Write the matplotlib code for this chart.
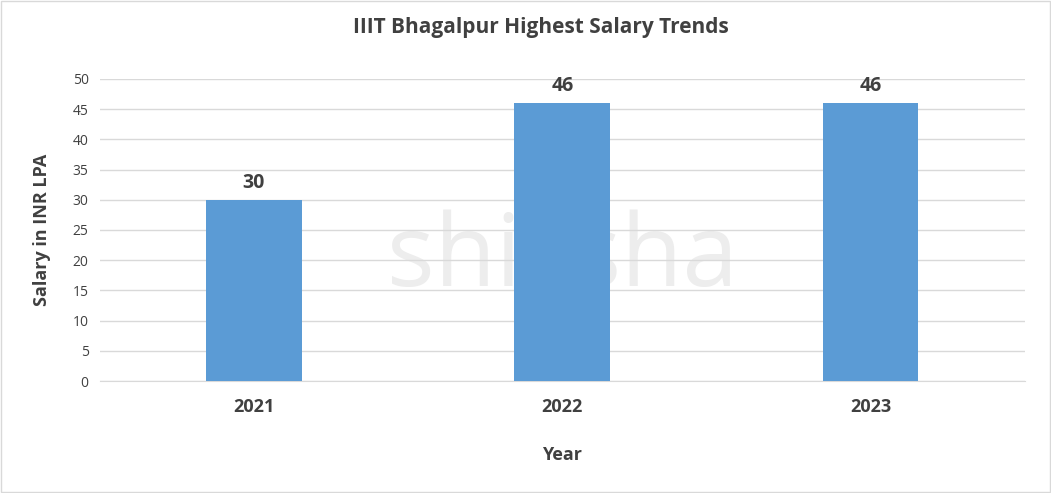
import matplotlib.pyplot as plt

years = ["2021", "2022", "2023"]
salary = [30, 46, 46]
yticks = [0, 5, 10, 15, 20, 25, 30, 35, 40, 45, 50]

plt.rcParams['font.family'] = ['Open Sans', 'DejaVu Sans']
text_col = '#404040'

fig = plt.figure(figsize=(10.51, 4.93), dpi=100)
ax = fig.add_axes([0.095, 0.227, 0.88, 0.613])

x = range(len(years))
bars = ax.bar(x, salary, width=0.31, color='#5B9BD5', zorder=3)
for b, v in zip(bars, salary):
    ax.text(b.get_x() + b.get_width() / 2, v + 1.2, str(v), ha='center', va='bottom',
            fontsize=14, fontweight='bold', color=text_col)

ax.set_xlim(-0.5, 2.5)
ax.set_ylim(0, 50)
ax.set_yticks(yticks)
ax.set_xticks(list(x))
ax.set_xticklabels(years, fontsize=13, fontweight='bold', color=text_col)
ax.tick_params(axis='y', labelsize=10, labelcolor=text_col, length=0, pad=8)
ax.tick_params(axis='x', length=0, pad=12)
ax.grid(axis='y', color='#D9D9D9', linewidth=1, zorder=0)
for s in ['top', 'right', 'left']:
    ax.spines[s].set_visible(False)
ax.spines['bottom'].set_color('#D9D9D9')

ax.set_xlabel("Year", fontsize=13, fontweight='bold', color=text_col, labelpad=22)
ax.set_ylabel("Salary in INR LPA", fontsize=13, fontweight='bold', color=text_col, labelpad=16)
fig.text(0.515, 0.945, "IIIT Bhagalpur Highest Salary Trends", ha='center', va='center',
         fontsize=15, fontweight='bold', color=text_col)

# faint watermark behind the bars
ax.text(0.31, 0.4, "shiksha", transform=ax.transAxes, fontsize=72, color='#EDEDED',
        ha='left', va='center', zorder=1)

fig.patches.append(plt.Rectangle((0.001, 0.002), 0.998, 0.996, transform=fig.transFigure,
                                 fill=False, edgecolor='#D9D9D9', linewidth=1))
fig.savefig("out.png", dpi=100)
